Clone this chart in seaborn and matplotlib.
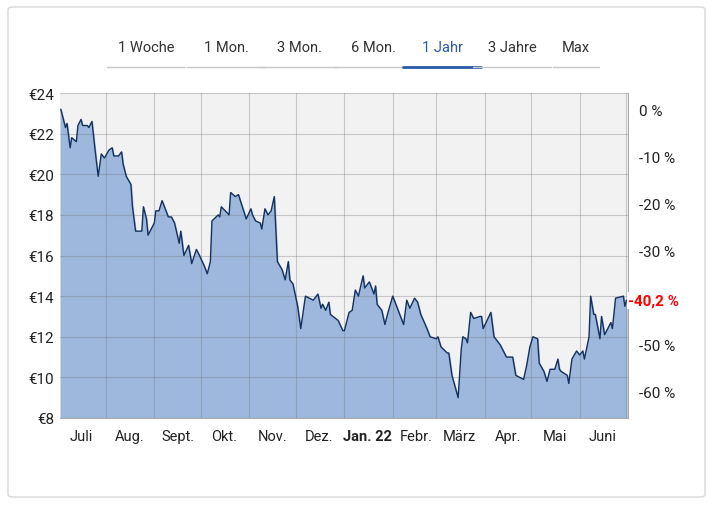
import pandas as pd
import numpy as np
import matplotlib.pyplot as plt
from matplotlib.patches import FancyBboxPatch
import seaborn as sns

# --- Data (day offset from start date, price in EUR) ---
start_date = "2021-07-03"
days = [0, 3, 4, 6, 7, 10, 11, 13, 14, 17, 18, 20, 22, 24, 26, 28, 31, 33, 34, 37,
        39, 40, 42, 45, 46, 48, 52, 53, 55, 56, 60, 61, 63, 65, 69, 71, 73, 76, 77, 79,
        82, 84, 87, 89, 92, 94, 96, 97, 101, 102, 103, 108, 109, 112, 114, 119, 122, 123, 125, 128,
        129, 131, 133, 135, 137, 139, 142, 144, 146, 147, 149, 152, 154, 157, 162, 165, 167, 168, 170, 172,
        173, 178, 181, 182, 185, 187, 189, 191, 194, 195, 198, 201, 202, 203, 206, 208, 210, 213, 216, 218,
        220, 222, 224, 227, 229, 231, 235, 237, 241, 242, 244, 248, 249, 251, 255, 257, 258, 260, 261, 263,
        265, 269, 270, 271, 276, 278, 282, 286, 290, 292, 297, 299, 301, 303, 306, 307, 310, 312, 314, 317,
        319, 320, 321, 325, 326, 328, 331, 333, 335, 336, 339, 340, 342, 343, 346, 347, 349, 353, 354, 356,
        361, 362, 363]
prices = [23.2, 22.3, 22.5, 21.3, 21.8, 21.6, 22.4, 22.7, 22.4, 22.4, 22.3, 22.6, 21.2, 19.9, 21.0, 20.8, 21.2, 21.3, 20.9, 20.9,
          21.1, 20.5, 19.9, 19.5, 18.4, 17.2, 17.2, 18.4, 17.8, 17.0, 17.6, 18.2, 18.2, 18.7, 17.9, 17.9, 17.6, 16.6, 17.2, 16.0,
          16.5, 15.6, 16.3, 16.0, 15.5, 15.1, 15.7, 17.7, 18.0, 17.9, 18.4, 18.0, 19.1, 18.9, 19.0, 17.8, 18.3, 18.0, 17.7, 17.6,
          17.3, 18.3, 18.0, 18.2, 18.9, 15.7, 15.3, 14.8, 15.7, 14.8, 14.6, 13.5, 12.4, 14.0, 13.8, 14.1, 13.4, 13.6, 13.3, 13.7,
          13.1, 12.8, 12.3, 12.3, 13.2, 13.3, 14.3, 14.0, 15.0, 14.4, 14.7, 14.1, 14.5, 13.6, 13.3, 12.6, 13.2, 14.0, 13.4, 13.0,
          12.6, 13.8, 13.4, 13.9, 13.7, 13.1, 12.4, 12.0, 11.9, 12.0, 11.5, 11.2, 11.2, 10.1, 9.0, 11.4, 12.0, 11.9, 11.7, 13.2,
          12.9, 13.0, 13.0, 12.4, 13.2, 12.0, 11.6, 11.0, 11.0, 10.1, 9.9, 10.6, 11.5, 12.0, 11.9, 10.7, 10.3, 9.8, 10.4, 10.4,
          10.9, 10.4, 10.3, 10.1, 9.7, 10.9, 11.3, 11.1, 11.3, 10.9, 12.0, 14.0, 13.1, 13.1, 11.9, 13.0, 12.1, 12.7, 12.4, 13.9,
          14.0, 13.5, 13.8]
base_price = 23.2
pct_ticks = [0, -10, -20, -30, -40, -50, -60]
current_change = "-40,2 %"
buttons = ["1 Woche", "1 Mon.", "3 Mon.", "6 Mon.", "1 Jahr", "3 Jahre", "Max"]
active_button = "1 Jahr"
month_labels = ["Juli", "Aug.", "Sept.", "Okt.", "Nov.", "Dez.", "Jan. 22", "Febr.",
                "März", "Apr.", "Mai", "Juni"]

df = pd.DataFrame({
    "date": pd.Timestamp(start_date) + pd.to_timedelta(days, unit="D"),
    "price": prices,
})

sns.set_style("white")
plt.rcParams["font.family"] = ["Roboto", "DejaVu Sans"]
text_col = "#222222"

fig = plt.figure(figsize=(7.12, 5.06), dpi=100)
fig.patches.append(FancyBboxPatch((8 / 712, 8 / 506), 697 / 712, 490 / 506,
                                  boxstyle="round,pad=0,rounding_size=0.006",
                                  transform=fig.transFigure, fill=False,
                                  edgecolor="#d8d8d8", linewidth=1))

# range buttons
btn_x = [146, 226, 299, 373, 442, 512, 576]
for label, bx in zip(buttons, btn_x):
    active = label == active_button
    fig.text(bx / 712, 1 - 48 / 506, label, ha="center", va="center", fontsize=10.5,
             color="#2a5aa8" if active else "#333333")
    w = 78 if label != "Max" else 46
    fig.add_artist(plt.Line2D([(bx - w / 2) / 712, (bx + w / 2) / 712], [1 - 68 / 506] * 2,
                              color="#2a5aa8" if active else "#c8c8c8",
                              linewidth=2 if active else 1))

ax = fig.add_axes([60 / 712, 1 - 419 / 506, 568 / 712, 325 / 506])
ax.set_facecolor("#f2f2f2")
ax.fill_between(df["date"], df["price"], 8, color="#9db8dc", zorder=2)
sns.lineplot(data=df, x="date", y="price", ax=ax, color="#15325f", linewidth=1, zorder=3)

x0 = pd.Timestamp(start_date)
ax.set_xlim(x0 - pd.Timedelta(days=0.5), x0 + pd.Timedelta(days=364))
ax.set_ylim(8, 24)
ax.set_yticks(range(8, 25, 2))
ax.set_yticklabels([f"€{v}" for v in range(8, 25, 2)], fontsize=11, color=text_col)

month_starts = pd.date_range("2021-08-01", "2022-07-01", freq="MS")
ax.set_xticks(month_starts)
ax.set_xticklabels([])
mid_months = pd.date_range("2021-07-01", "2022-06-01", freq="MS") + pd.Timedelta(days=15)
ax.set_xticks(mid_months, minor=True)
ax.set_xticklabels(month_labels, minor=True, fontsize=10.5, color=text_col)
for lbl in ax.get_xticklabels(minor=True):
    if lbl.get_text().startswith("Jan"):
        lbl.set_fontweight("bold")
ax.tick_params(axis="x", which="both", length=0, pad=8)
ax.tick_params(axis="y", length=0, pad=4)
ax.grid(True, which="major", color="#777777", alpha=0.35, linewidth=0.8, zorder=4)
ax.set_axisbelow(False)
ax.set_xlabel("")
ax.set_ylabel("")
for s in ax.spines.values():
    s.set_visible(False)
ax.spines["bottom"].set_visible(True)
ax.spines["bottom"].set_color("#aaaaaa")

ax2 = ax.twinx()
ax2.set_ylim(8, 24)
ax2.set_yticks([base_price * (1 + p / 100) for p in pct_ticks])
ax2.set_yticklabels([f"{p} %" for p in pct_ticks], fontsize=11, color=text_col)
ax2.tick_params(axis="y", length=0, pad=8)
for s in ax2.spines.values():
    s.set_visible(False)
ax2.spines["right"].set_visible(True)
ax2.spines["right"].set_color("#aaaaaa")
ax2.text(1.0, prices[-1], current_change, transform=ax2.get_yaxis_transform(),
         ha="left", va="center", color="red", fontweight="bold", fontsize=11,
         bbox=dict(facecolor="white", edgecolor="none", pad=1))

fig.savefig("out.png", dpi=100)
